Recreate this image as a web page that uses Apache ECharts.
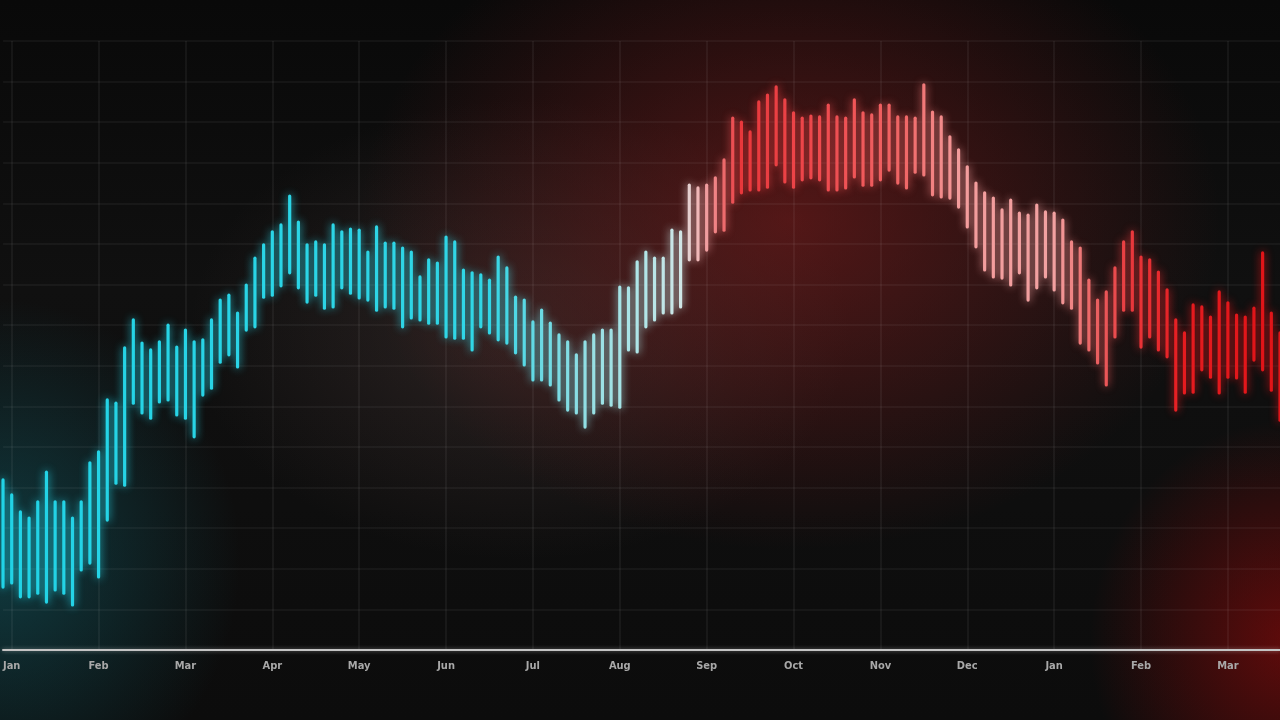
<!DOCTYPE html>
<html>
<head>
<meta charset="utf-8">
<script src="https://cdn.jsdelivr.net/npm/echarts@6/dist/echarts.min.js"></script>
<style>
html,body{margin:0;padding:0;background:#0a0a0a;}
#chart{width:1280px;height:720px;
background:
 radial-gradient(ellipse 430px 330px at 790px 220px, rgba(125,28,28,0.62), rgba(125,28,28,0) 100%),
 radial-gradient(ellipse 330px 230px at 520px 330px, rgba(95,70,68,0.35), rgba(95,70,68,0) 100%),
 radial-gradient(ellipse 240px 260px at 0px 560px, rgba(18,95,105,0.55), rgba(18,95,105,0) 100%),
 radial-gradient(ellipse 200px 220px at 1290px 640px, rgba(140,10,10,0.65), rgba(140,10,10,0) 100%),
 linear-gradient(#090909, #101010 40%, #0c0c0c);
}
</style>
</head>
<body>
<div id="chart"></div>
<script>
const tickLabels = ['Jan','Feb','Mar','Apr','May','Jun','Jul','Aug','Sep','Oct','Nov','Dec','Jan','Feb','Mar'];

const highs = [
41.9,38.2,34.0,32.5,36.5,43.8,36.5,36.5,32.5,36.5,
46.1,48.8,61.6,60.8,74.4,81.3,75.6,73.9,75.9,80.0,
74.6,78.8,75.9,76.4,81.3,86.2,87.4,83.0,89.9,96.5,
99.8,103.0,104.7,111.8,105.4,99.8,100.5,99.8,104.7,103.0,
103.7,103.4,98.0,104.2,100.2,100.2,99.0,98.0,91.9,96.1,
95.3,101.7,100.5,93.6,92.9,92.4,91.1,96.8,94.1,86.9,
86.2,80.8,83.7,80.5,77.6,75.9,72.7,75.9,77.6,78.8,
78.8,89.4,89.2,95.6,98.0,96.5,96.5,103.4,103.0,114.5,
113.8,114.5,116.3,120.7,131.0,130.0,127.6,135.0,136.7,138.7,
135.5,132.3,131.0,131.5,131.3,134.2,131.3,131.0,135.5,132.3,
131.8,134.2,134.2,131.3,131.3,131.0,139.2,132.5,131.3,126.4,
123.2,119.0,115.0,112.6,111.3,108.4,110.8,107.6,107.1,109.6,
107.9,107.6,105.9,100.5,99.0,91.1,86.2,88.2,94.1,100.5,
103.0,96.8,96.1,93.1,88.7,81.3,78.1,85.0,84.5,82.0,
88.2,85.5,82.5,82.0,84.2,97.8,83.0,78.1
];
const lows = [
15.5,16.5,13.1,13.1,14.0,11.8,14.8,14.0,11.1,19.7,
21.4,18.0,32.0,41.1,40.6,60.8,58.4,57.1,61.1,61.6,
57.9,57.1,52.5,62.8,64.5,70.9,72.7,69.7,78.8,79.6,
86.9,87.4,89.7,92.9,89.2,85.7,87.4,84.2,84.5,89.2,
87.9,86.7,86.2,83.7,84.5,84.2,79.6,81.8,81.3,80.5,
80.5,77.1,76.8,76.8,73.9,79.6,78.1,76.4,75.6,73.2,
70.2,66.5,66.5,65.3,61.6,59.1,58.4,54.9,58.4,60.8,
60.3,59.8,73.9,73.4,79.6,81.3,83.0,83.0,84.5,96.1,
96.1,98.5,103.0,103.4,110.3,112.6,113.3,113.3,114.0,119.5,
115.3,114.0,115.8,116.3,115.8,113.3,113.3,113.8,116.5,114.5,
114.5,115.8,118.2,115.0,113.8,117.7,117.0,112.1,111.6,111.3,
109.1,104.2,99.3,93.6,91.9,91.6,89.9,92.9,86.2,89.2,
91.9,88.7,85.5,84.2,75.6,73.9,70.7,65.3,77.1,83.7,
83.7,74.6,77.1,73.9,72.2,59.1,63.3,63.5,69.0,67.2,
63.3,67.2,67.0,63.5,71.4,69.0,64.0,56.6
];

const N = highs.length;
const categories = [];
for (let i = 0; i < N; i++) {
  categories.push(i % 10 === 1 ? tickLabels[(i - 1) / 10] : String(i));
}
const seriesData = [];
for (let i = 0; i < N; i++) seriesData.push([i, lows[i], highs[i]]);

// colour ramp along the x direction (styling only)
const stops = [
  [0,'#22d3e6'],[56,'#32d6e6'],[62,'#6cdae4'],[68,'#98e0e4'],[74,'#b2e6e8'],
  [78,'#cfe6e6'],[79.5,'#f0c6c6'],[82,'#f08486'],[85,'#e8383c'],[94,'#ee4a4e'],
  [104,'#f06868'],[110,'#f39c9c'],[121,'#f2a2a2'],[125,'#ec6a6a'],[130,'#e8383c'],
  [136,'#e51c20'],[147,'#e01418']
];
function hex(c){return [parseInt(c.substr(1,2),16),parseInt(c.substr(3,2),16),parseInt(c.substr(5,2),16)];}
function colorAt(i){
  for (let k = 0; k < stops.length - 1; k++) {
    const a = stops[k], b = stops[k+1];
    if (i >= a[0] && i <= b[0]) {
      const t = (i - a[0]) / (b[0] - a[0]);
      const ca = hex(a[1]), cb = hex(b[1]);
      return 'rgb(' + ca.map((v,j)=>Math.round(v + (cb[j]-v)*t)).join(',') + ')';
    }
  }
  return stops[stops.length-1][1];
}

const chart = echarts.init(document.getElementById('chart'), null, {renderer:'canvas'});
const tickFn = (idx) => idx % 10 === 1;
chart.setOption({
  backgroundColor: 'transparent',
  animation: false,
  grid: {left: 0, right: 0, top: 41, bottom: 70},
  xAxis: {
    type: 'category',
    data: categories,
    boundaryGap: false,
    axisLine: {show: true, lineStyle: {color: '#c4c4c4', width: 2, shadowBlur: 4, shadowColor: 'rgba(255,255,255,0.4)'}},
    axisTick: {show: false},
    axisLabel: {interval: tickFn, color: '#a8a8a8', fontSize: 11, fontWeight: 'bold', margin: 11, fontFamily: 'DejaVu Sans Condensed, DejaVu Sans'},
    splitLine: {show: true, interval: tickFn, lineStyle: {color: 'rgba(255,255,255,0.05)', width: 2}}
  },
  yAxis: {
    type: 'value', min: 0, max: 150, interval: 10,
    axisLine: {show: false}, axisTick: {show: false}, axisLabel: {show: false},
    splitLine: {show: true, lineStyle: {color: 'rgba(255,255,255,0.045)', width: 2}}
  },
  series: [{
    type: 'custom',
    clip: false,
    data: seriesData,
    encode: {x: 0, y: [1, 2]},
    renderItem: function (params, api) {
      const i = api.value(0);
      const lo = api.coord([i, api.value(1)]);
      const hi = api.coord([i, api.value(2)]);
      const c = colorAt(i);
      return {
        type: 'line',
        shape: {x1: lo[0], y1: lo[1], x2: hi[0], y2: hi[1]},
        style: {stroke: c, lineWidth: 3.2, lineCap: 'round', shadowBlur: 9, shadowColor: c}
      };
    }
  }]
});
</script>
</body>
</html>
